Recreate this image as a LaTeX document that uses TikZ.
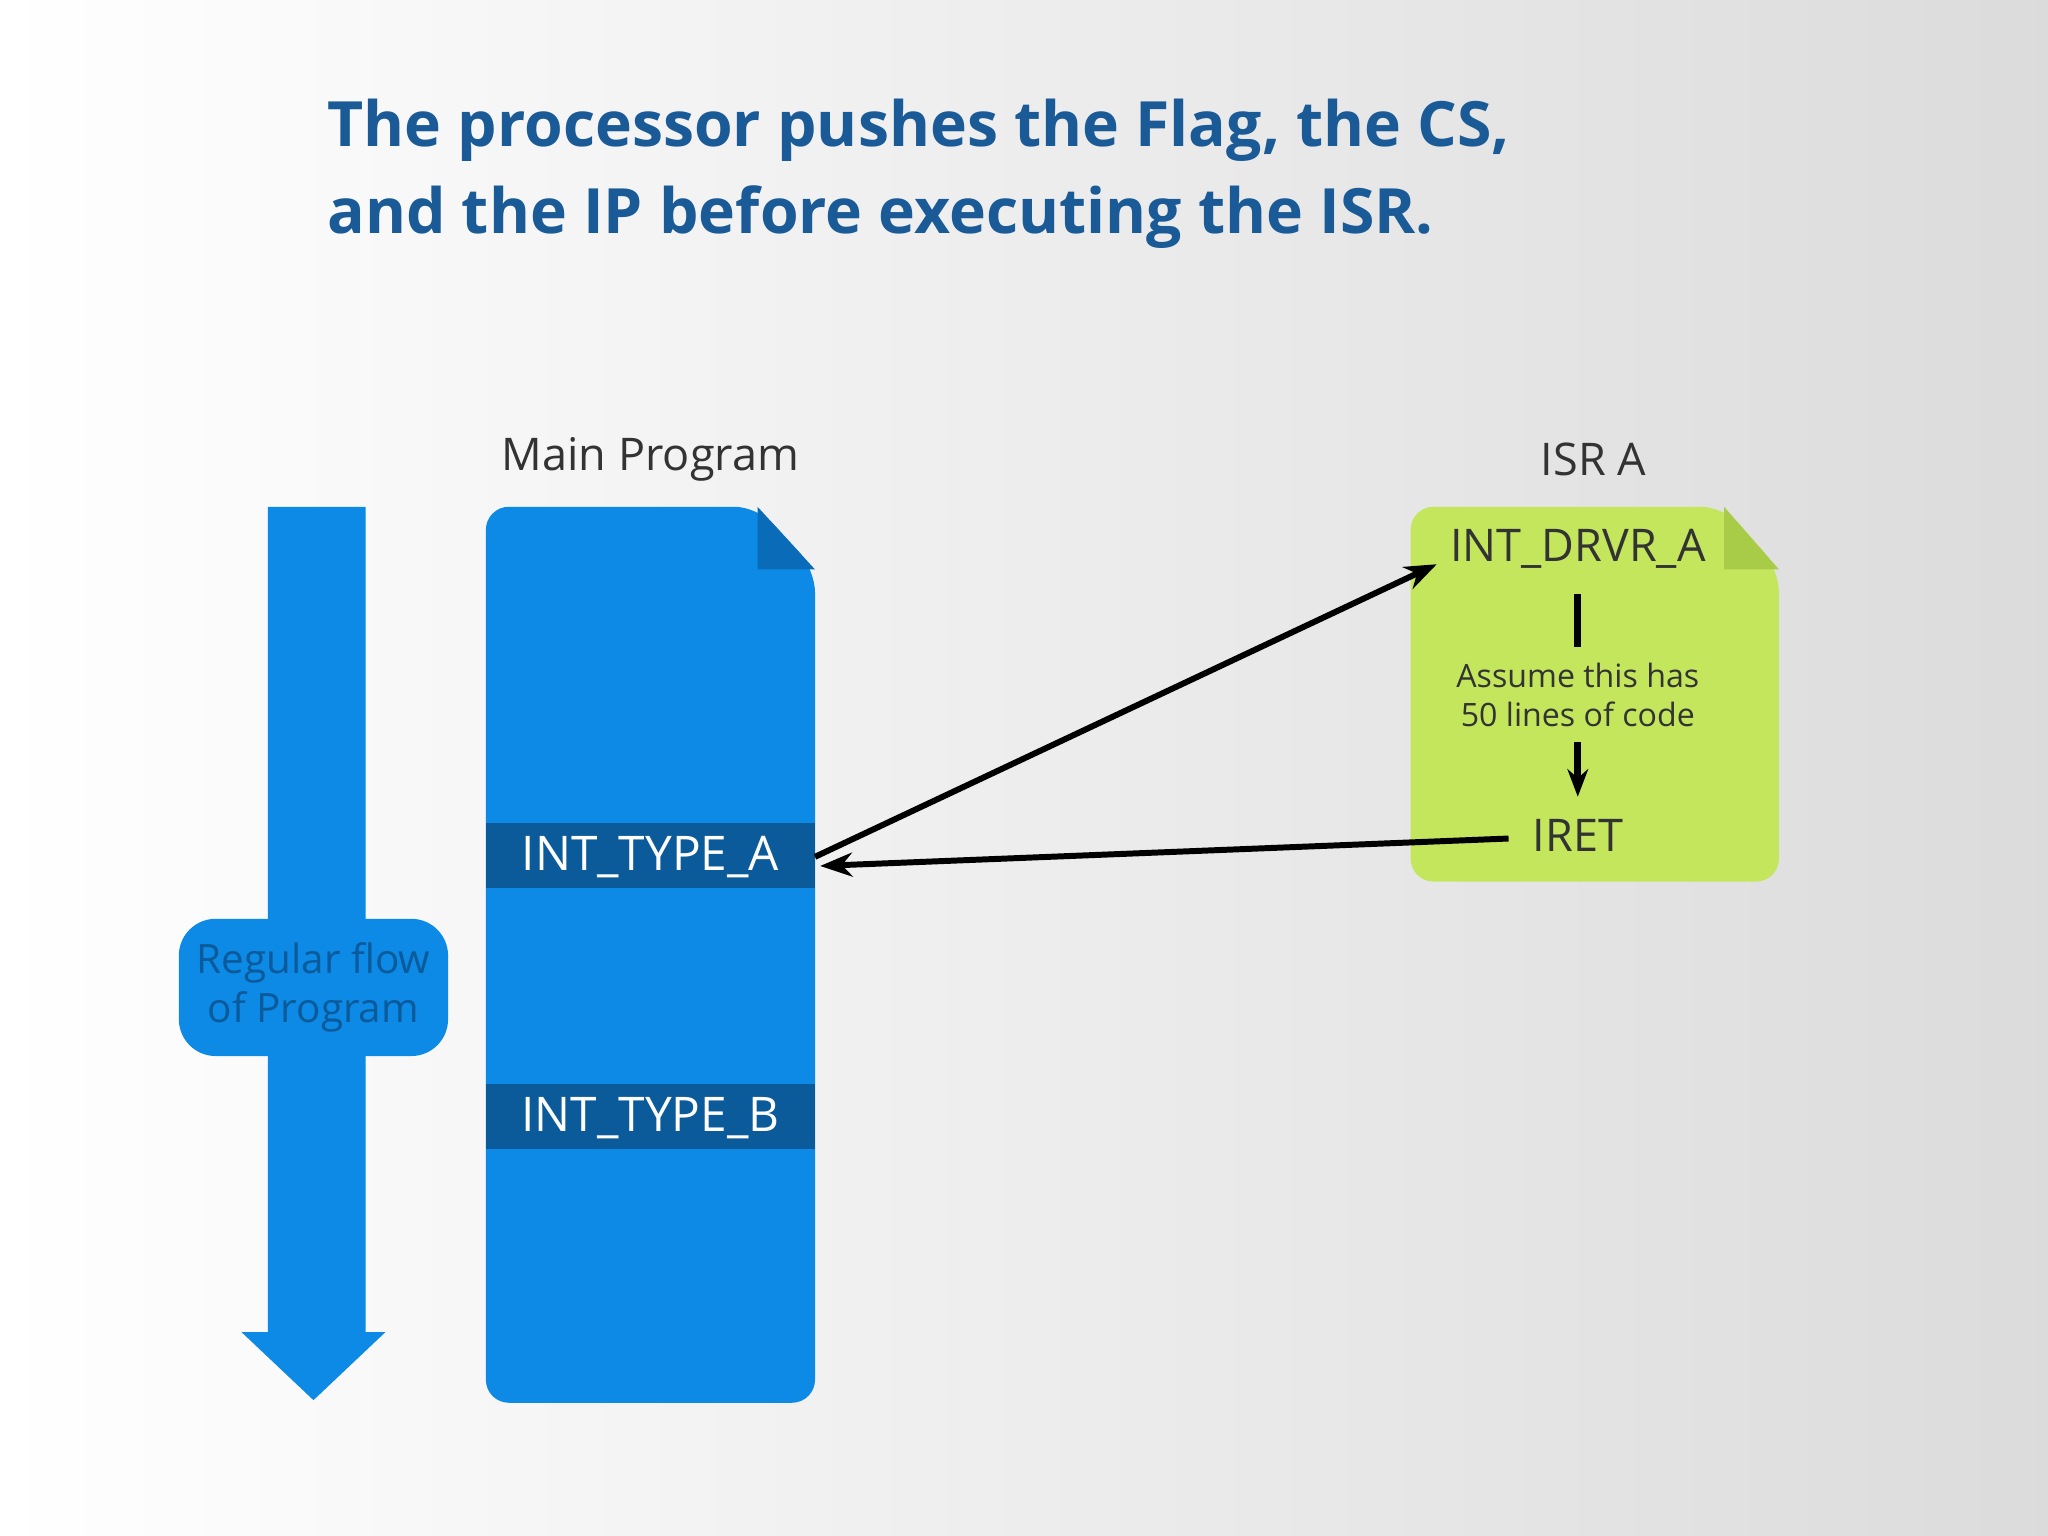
\documentclass[tikz,border=0pt]{standalone}
\usepackage{fontspec}
\setmainfont{Open Sans}
\usetikzlibrary{arrows.meta}
\definecolor{ttl}{HTML}{1A5A96}
\definecolor{bblue}{HTML}{0C8AE6}
\definecolor{dblue}{HTML}{0B5A9A}
\definecolor{fold}{HTML}{0A6CB8}
\definecolor{grn}{HTML}{C3E65C}
\definecolor{gfold}{HTML}{A9CC48}
\tikzset{
  band/.style={fill=dblue,draw=none},
  bandtxt/.style={text=white,font=\fontsize{10.4}{12}\selectfont},
  lbl/.style={text=black!80,font=\fontsize{9.8}{12}\selectfont},
  link/.style={-{Stealth[length=7pt]},line width=1.3pt,draw=black}
}
\begin{document}
\begin{tikzpicture}[x=0.01cm,y=-0.01cm]
\useasboundingbox (0,0) rectangle (1568,1176);
\shade[left color=white,right color=black!14] (0,0) rectangle (1568,1176);
\node[anchor=north west,text=ttl,font=\fontsize{13.6}{19}\selectfont\bfseries,align=left,inner sep=0] (title) at (250,75) {The processor pushes the Flag, the CS,\\and the IP before executing the ISR.};
% left arrow
\fill[bblue] (205,388) -- (280,388) -- (280,1020) -- (295,1020) -- (240,1072) -- (185,1020) -- (205,1020) -- cycle;
\node[fill=bblue,rounded corners=8pt,minimum width=2.06cm,minimum height=1.05cm,align=center,text=dblue,font=\fontsize{8.8}{10.5}\selectfont] (flow) at (240,756) {Regular flow\\of Program};
% main program
\node[lbl] (mainlbl) at (498,352) {Main Program};
\fill[bblue,rounded corners=5pt] (372,388) -- (580,388) -- (624,436) -- (624,1074) -- (372,1074) -- cycle;
\fill[fold] (580,388) -- (580,436) -- (624,436) -- cycle;
\fill[band] (372,630) rectangle (624,680);
\fill[band] (372,830) rectangle (624,880);
\node[bandtxt] (ta) at (498,656) {INT\_TYPE\_A};
\node[bandtxt] (tb) at (498,856) {INT\_TYPE\_B};
\coordinate (aout) at (624,656);
\coordinate (ain) at (628,663);
% ISR
\node[lbl] (isrlbl) at (1220,352) {ISR A};
\fill[grn,rounded corners=5pt] (1080,388) -- (1320,388) -- (1362,436) -- (1362,675) -- (1080,675) -- cycle;
\fill[gfold] (1320,388) -- (1320,436) -- (1362,436) -- cycle;
\node[lbl] (drv) at (1208,420) {INT\_DRVR\_A};
\node[text=black!80,font=\fontsize{7}{8.6}\selectfont,align=center] (asm) at (1208,532) {Assume this has\\50 lines of code};
\node[lbl] (iret) at (1208,640) {IRET};
\draw[line width=1.5pt] (1208,455) -- (1208,495);
\draw[-{Stealth[length=6pt]},line width=1.5pt] (1208,568) -- (1208,610);
\coordinate (din) at (1100,432);
\draw[link] (aout) -- (din);
\draw[link] (1155,642) -- (ain);
\end{tikzpicture}
\end{document}
